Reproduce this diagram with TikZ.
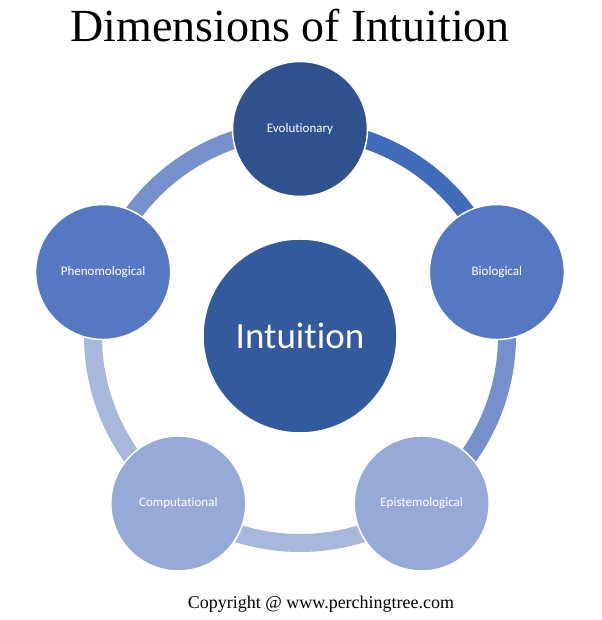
\documentclass[tikz,border=0pt]{standalone}
\usepackage{fontspec}
\setmainfont{Liberation Serif}
\newfontfamily\lblfont[Ligatures=NoCommon]{Carlito}
\usetikzlibrary{calc}
\definecolor{cEvo}{HTML}{2F528F}
\definecolor{cMid}{HTML}{345A9E}
\definecolor{cBio}{HTML}{5677C1}
\definecolor{cLight}{HTML}{97A9D6}
\definecolor{aDark}{HTML}{3F6BBA}
\definecolor{aMid}{HTML}{7590CB}
\definecolor{aLight}{HTML}{A8B7DC}
\tikzset{
  dim/.style={circle, minimum size=135bp, inner sep=0pt, draw=white, line width=1.5bp,
    text=white, font=\lblfont\fontsize{13bp}{15bp}\selectfont},
  hub/.style={circle, minimum size=194bp, inner sep=0pt, draw=white, line width=1.5bp,
    fill=cMid, text=white, font=\lblfont\fontsize{37bp}{40bp}\selectfont},
  ring/.style={line width=18bp}
}
\begin{document}
\begin{tikzpicture}[x=1bp,y=1bp]
\useasboundingbox (0,0) rectangle (602,620);
\coordinate (C) at (300,284);
\coordinate (pEvo) at ($(C)+(90:207)$);
\coordinate (pBio) at ($(C)+(18:207)$);
\coordinate (pEpi) at ($(C)+(-54:207)$);
\coordinate (pCom) at ($(C)+(-126:207)$);
\coordinate (pPhe) at ($(C)+(162:207)$);
% ring segments
\draw[ring, aDark] (pEvo) arc[start angle=90, end angle=18, radius=207];
\draw[ring, aMid] (pBio) arc[start angle=18, end angle=-54, radius=207];
\draw[ring, aLight] (pEpi) arc[start angle=-54, end angle=-126, radius=207];
\draw[ring, aLight] (pCom) arc[start angle=234, end angle=162, radius=207];
\draw[ring, aMid] (pPhe) arc[start angle=162, end angle=90, radius=207];
% circles
\node[hub] (hub) at (C) {Intuition};
\node[dim, fill=cEvo] (evo) at (pEvo) {Evolutionary};
\node[dim, fill=cBio] (bio) at (pBio) {Biological};
\node[dim, fill=cLight] (epi) at (pEpi) {Epistemological};
\node[dim, fill=cLight] (com) at (pCom) {Computational};
\node[dim, fill=cBio] (phe) at (pPhe) {Phenomological};
% texts
\node[anchor=base, font=\fontsize{46bp}{50bp}\selectfont, inner sep=0pt] (title) at (290,578) {Dimensions of Intuition};
\node[anchor=base, font=\fontsize{18bp}{21bp}\selectfont, inner sep=0pt] (copy) at (321,11) {Copyright @ www.perchingtree.com};
\end{tikzpicture}
\end{document}
